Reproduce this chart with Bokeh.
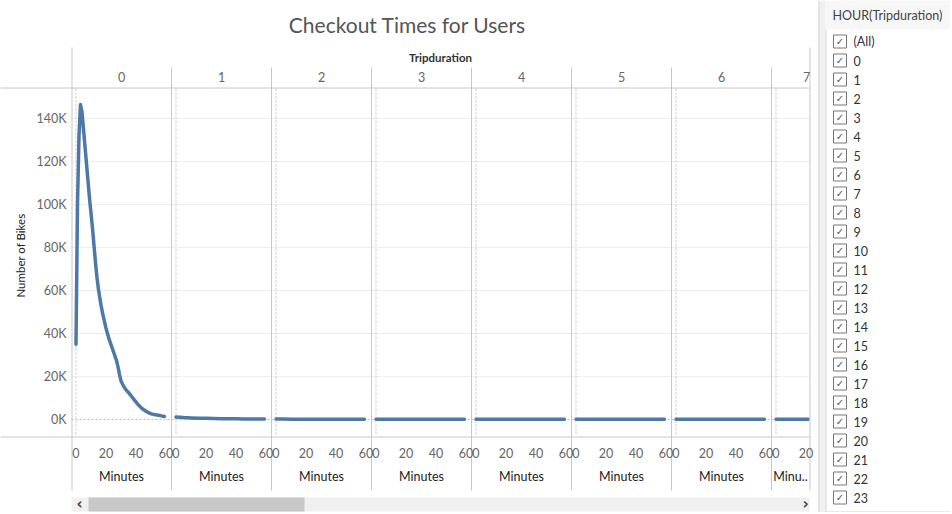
from math import pi
from bokeh.plotting import figure
from bokeh.models import Range1d, ColumnDataSource
from bokeh.embed import file_html
from bokeh.resources import INLINE
from bokeh.core.properties import value

# ---------------- data ----------------
title_text = "Checkout Times for Users"
column_title = "Tripduration"
y_title = "Number of Bikes"
x_title = "Minutes"

hours = [0, 1, 2, 3, 4, 5, 6, 7]

minutes_h0 = [0, 1, 2, 3, 4, 5, 6, 7, 8, 9, 10, 11, 12, 13, 14, 15, 16, 17, 18, 19,
              20, 21, 22, 23, 24, 25, 26, 27, 28, 29, 30, 31, 32, 33, 34, 35, 36, 37, 38, 39,
              40, 41, 42, 43, 44, 45, 46, 47, 48, 49, 50, 51, 52, 53, 54, 55, 56, 57, 58, 59]
bikes_h0 = [35000, 100000, 132000, 146500, 143000, 135000, 127000, 119000, 111000, 103000,
            96000, 89000, 81000, 73000, 66000, 60500, 56000, 52000, 48500, 45500,
            42500, 40000, 37500, 35500, 33500, 31500, 29500, 27500, 24500, 21000,
            18000, 16500, 15200, 14200, 13300, 12600, 11700, 10800, 9900, 9000,
            8200, 7300, 6500, 5800, 5100, 4600, 4200, 3700, 3300, 3000,
            2700, 2500, 2350, 2200, 2100, 2000, 1900, 1700, 1550, 1400]

minutes_other = [0, 5, 10, 15, 20, 25, 30, 35, 40, 45, 50, 55, 59]
bikes_h1 = [1150, 900, 750, 620, 530, 460, 400, 350, 310, 280, 250, 230, 210]
bikes_h2 = [190, 175, 165, 155, 145, 135, 130, 125, 120, 115, 110, 105, 100]
bikes_h3 = [120, 115, 110, 105, 100, 95, 95, 90, 90, 85, 85, 80, 80]
bikes_h4 = [100, 100, 95, 95, 90, 90, 85, 85, 80, 80, 80, 75, 75]
bikes_h5 = [110, 105, 100, 100, 95, 95, 90, 90, 85, 85, 80, 80, 80]
bikes_h6 = [130, 125, 120, 115, 110, 105, 100, 100, 95, 95, 90, 90, 85]
bikes_h7 = [150, 140, 135, 130, 125, 120, 115, 110, 105, 100, 100, 95, 95]

y_ticks = [0, 20000, 40000, 60000, 80000, 100000, 120000, 140000]
y_tick_labels = ["0K", "20K", "40K", "60K", "80K", "100K", "120K", "140K"]
x_tick_minutes = [0, 20, 40, 60]
x_tick_labels = ["0", "20", "40", "60"]

filter_title = "HOUR(Tripduration)"
filter_items = ["(All)", "0", "1", "2", "3", "4", "5", "6", "7", "8", "9", "10", "11",
                "12", "13", "14", "15", "16", "17", "18", "19", "20", "21", "22", "23"]

# ---------------- geometry / style ----------------
FONT = "Lato"
LINE_COLOR = "#4e79a7"
RULE = "#c8c8c8"
PAD = 3.0        # minutes shown before 0 inside each pane
SPAN = 66.7      # minutes covered by one pane
VISIBLE = 7.38   # panes visible in the view (pane 7 is cut by the scroll view)

# page layout in pixels (window coordinates)
OX, OY = 0, 0
W, H = 950, 512
PL, PR, PT, PB = 71, 809, 88, 436   # pane area
ZERO_Y = 419                  # pixel row of value 0
PX_PER_20K = 43.0
K = 20000 / PX_PER_20K        # bikes per pixel
PANE_W = (PR - PL) / VISIBLE  # pixels per pane

def xpos(h, m):
    return h + (m + PAD) / SPAN

x_range = Range1d((OX - PL) / PANE_W, (OX + W - PL) / PANE_W)
y_range = Range1d((ZERO_Y - (OY + H)) * K, (ZERO_Y - OY) * K)

ROW0, ROWH = 41.0, 19.0
p = figure(width=W, height=H, output_backend="svg", toolbar_location=None,
           x_range=x_range, y_range=y_range, x_axis_type=None, y_axis_type=None,
           min_border=0, outline_line_color=None)
p.grid.visible = False
p.extra_x_ranges = {"pix": Range1d(OX, OX + W)}
p.extra_y_ranges = {"piy": Range1d(OY + H, OY),
                    "rows": Range1d((OY + H - ROW0) / ROWH, (OY - ROW0) / ROWH)}

def seg(x0, y0, x1, y1, xr="pix", yr="piy", **kw):
    p.segment(x0=x0, y0=y0, x1=x1, y1=y1, x_range_name=xr, y_range_name=yr, **kw)

def txt(x, y, t, xr="pix", yr="piy", size="12.5px", color="#666666", align="center",
        style="normal", font=FONT, angle=0):
    p.text(x=x, y=y, text=t, x_range_name=xr, y_range_name=yr, text_align=align,
           text_baseline="middle", text_font=value(font), text_font_size=size,
           text_color=color, text_font_style=style, angle=angle)

# scrollbar
p.quad(left=[PL], right=[PR], top=[497], bottom=[511], x_range_name="pix",
       y_range_name="piy", fill_color="#f0f0f0", line_color=None)
p.quad(left=[88], right=[304], top=[497], bottom=[511], x_range_name="pix",
       y_range_name="piy", fill_color="#c8c8c8", line_color=None)
txt([79], [503.5], ["\u2039"], size="15px", color="#444444", style="bold", font="DejaVu Sans")
txt([805], [503.5], ["\u203a"], size="15px", color="#444444", style="bold", font="DejaVu Sans")

# gridlines (value axis)
grid_vals = y_ticks[1:]
seg([PL] * len(grid_vals), grid_vals, [PR] * len(grid_vals), grid_vals, yr="default",
    line_color="#eeeeee", line_width=1)
# zero references
seg([PL], [0], [PR], [0], yr="default", line_color="#bdbdbd", line_dash="2 2", line_width=1)
zx = [xpos(h, 0) for h in hours]
seg(zx, [PT] * len(zx), zx, [PB] * len(zx), xr="default", line_color="#c4c4c4",
    line_dash="2 2", line_width=1)

# data lines, one per pane
series = [(minutes_h0, bikes_h0), (minutes_other, bikes_h1), (minutes_other, bikes_h2),
          (minutes_other, bikes_h3), (minutes_other, bikes_h4), (minutes_other, bikes_h5),
          (minutes_other, bikes_h6), (minutes_other, bikes_h7)]
for h, (mins, vals) in zip(hours, series):
    src = ColumnDataSource(dict(x=[xpos(h, m) for m in mins], y=vals))
    p.line("x", "y", source=src, line_color=LINE_COLOR, line_width=3.5,
           line_join="round", line_cap="round")

# the scroll view hides what lies past its right edge
p.quad(left=[PR], right=[W + 10], top=[PT - 1], bottom=[PB + 1], x_range_name="pix",
       y_range_name="piy", fill_color="white", line_color=None)

# table rules
seg([OX, OX], [PT - 0.5, PB + 0.5], [PR + 0.5, PR + 0.5], [PT - 0.5, PB + 0.5], line_color=RULE)
seg([PL + 0.5, PR + 0.5], [47, 47], [PL + 0.5, PR + 0.5], [490, 490], line_color=RULE)
sep = hours[1:]
seg(sep, [67] * len(sep), sep, [490] * len(sep), xr="default", line_color=RULE)

# y tick labels and title
txt([66] * len(y_ticks), y_ticks, y_tick_labels, yr="default", align="right")
txt([20], [255], [y_title], size="11.5px", color="#222222", angle=pi / 2)

# x tick labels
xt, xl = [], []
for h in hours:
    for m, lab in zip(x_tick_minutes, x_tick_labels):
        if xpos(h, m) <= VISIBLE:
            xt.append(xpos(h, m))
            xl.append(lab)
txt(xt, [452] * len(xt), xl, xr="default")

# pane headers / footers
hx = [h + 0.5 for h in hours[:-1]] + [(PR - 3 - PL) / PANE_W]
txt(hx, [76] * len(hx), [str(h) for h in hours], xr="default")
fx = [h + 0.5 for h in hours[:-1]] + [(790 - PL) / PANE_W]
txt(fx, [476] * len(fx), [x_title] * 7 + ["Minu.."], xr="default", color="#222222")
txt([440], [57], [column_title], size="11.5px", color="#333333", style="bold")

# chart title
txt([407], [24], [title_text], size="21px", color="#555555")

# ---------------- filter card ----------------
p.quad(left=[818], right=[825], top=[0], bottom=[520], x_range_name="pix",
       y_range_name="piy", fill_color="#f0f0f0", line_color=None)
p.quad(left=[825], right=[960], top=[0], bottom=[29], x_range_name="pix",
       y_range_name="piy", fill_color="#f7f7f7", line_color=None)
seg([818.5, 825.5], [0, 29], [818.5, 825.5], [520, 511.5], line_color="#d4d4d4")
seg([825.5], [511.5], [960], [511.5], line_color="#d4d4d4")
txt([832], [15], [filter_title], align="left", color="#444444")

rows = list(range(len(filter_items)))
fsrc = ColumnDataSource(dict(x=[839.5] * len(rows), tx=[853] * len(rows), y=rows,
                             label=filter_items, check=["\u2713"] * len(rows)))
p.scatter("x", "y", source=fsrc, x_range_name="pix", y_range_name="rows", marker="square",
          size=13, fill_color="white", line_color="#777777", line_width=1)
p.text("x", "y", text="check", source=fsrc, x_range_name="pix", y_range_name="rows",
       text_align="center", text_baseline="middle", text_font=value("DejaVu Sans"),
       text_font_size="10px", text_color="#555555")
p.text("tx", "y", text="label", source=fsrc, x_range_name="pix", y_range_name="rows",
       text_align="left", text_baseline="middle", text_font=value(FONT),
       text_font_size="12.5px", text_color="#333333")

open("out.html", "w").write(file_html(p, INLINE))
